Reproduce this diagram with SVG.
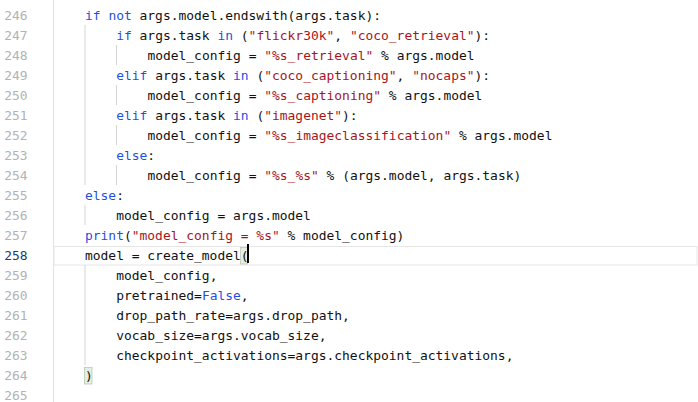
<svg xmlns="http://www.w3.org/2000/svg" width="698" height="402" viewBox="0 0 698 402">
<style>
text{font-family:"DejaVu Sans Mono","Liberation Mono",monospace;font-size:12.95px;fill:#111;white-space:pre}
.ln{fill:#b3b3b3;text-anchor:end}
.cur{fill:#1d3a78}
.k{fill:#1f4fe0}
.s{fill:#a8141c}
.guide{stroke:#d4d4d4;stroke-width:1}
.br{fill:#e2efe2;stroke:#b9c9b9;stroke-width:0.8}
</style>
<rect width="698" height="402" fill="#ffffff"/>
<g id="gutter">
<line x1="53.5" y1="0" x2="53.5" y2="402" stroke="#e2e2e2" stroke-width="1"/>
</g>
<g id="current-line">
<rect x="54" y="246.5" width="643" height="18.5" fill="#ffffff" stroke="#e6e6e6" stroke-width="1"/>
<rect class="br" x="240.5" y="247.5" width="7" height="16.5"/>
<rect x="247" y="244" width="2" height="19" fill="#000"/>
<rect class="br" x="84.5" y="367.5" width="7.5" height="16.5"/>
</g>
<g id="guides">
<line class="guide" x1="85" y1="25" x2="85" y2="185"/>
<line class="guide" x1="85" y1="205" x2="85" y2="225"/>
<line class="guide" x1="85" y1="265" x2="85" y2="365"/>
<line class="guide" x1="116.5" y1="45" x2="116.5" y2="65"/>
<line class="guide" x1="116.5" y1="85" x2="116.5" y2="105"/>
<line class="guide" x1="116.5" y1="125" x2="116.5" y2="145"/>
<line class="guide" x1="116.5" y1="165" x2="116.5" y2="185"/>
</g>
<g id="line-numbers">
<text class="ln" x="27.5" y="20">246</text>
<text class="ln" x="27.5" y="40">247</text>
<text class="ln" x="27.5" y="60">248</text>
<text class="ln" x="27.5" y="80">249</text>
<text class="ln" x="27.5" y="100">250</text>
<text class="ln" x="27.5" y="120">251</text>
<text class="ln" x="27.5" y="140">252</text>
<text class="ln" x="27.5" y="160">253</text>
<text class="ln" x="27.5" y="180">254</text>
<text class="ln" x="27.5" y="200">255</text>
<text class="ln" x="27.5" y="220">256</text>
<text class="ln" x="27.5" y="240">257</text>
<text class="ln cur" x="27.5" y="260">258</text>
<text class="ln" x="27.5" y="280">259</text>
<text class="ln" x="27.5" y="300">260</text>
<text class="ln" x="27.5" y="320">261</text>
<text class="ln" x="27.5" y="340">262</text>
<text class="ln" x="27.5" y="360">263</text>
<text class="ln" x="27.5" y="380">264</text>
<text class="ln" x="27.5" y="400">265</text>
</g>
<g id="code">
<text id="l246" x="85" y="20"><tspan class="k">if</tspan> <tspan class="k">not</tspan> args.model.endswith(args.task):</text>
<text id="l247" x="116.2" y="40"><tspan class="k">if</tspan> args.task <tspan class="k">in</tspan> (<tspan class="s">"flickr30k"</tspan>, <tspan class="s">"coco_retrieval"</tspan>):</text>
<text id="l248" x="147.4" y="60">model_config = <tspan class="s">"%s_retrieval"</tspan> % args.model</text>
<text id="l249" x="116.2" y="80"><tspan class="k">elif</tspan> args.task <tspan class="k">in</tspan> (<tspan class="s">"coco_captioning"</tspan>, <tspan class="s">"nocaps"</tspan>):</text>
<text id="l250" x="147.4" y="100">model_config = <tspan class="s">"%s_captioning"</tspan> % args.model</text>
<text id="l251" x="116.2" y="120"><tspan class="k">elif</tspan> args.task <tspan class="k">in</tspan> (<tspan class="s">"imagenet"</tspan>):</text>
<text id="l252" x="147.4" y="140">model_config = <tspan class="s">"%s_imageclassification"</tspan> % args.model</text>
<text id="l253" x="116.2" y="160"><tspan class="k">else</tspan>:</text>
<text id="l254" x="147.4" y="180">model_config = <tspan class="s">"%s_%s"</tspan> % (args.model, args.task)</text>
<text id="l255" x="85" y="200"><tspan class="k">else</tspan>:</text>
<text id="l256" x="116.2" y="220">model_config = args.model</text>
<text id="l257" x="85" y="240"><tspan class="k">print</tspan>(<tspan class="s">"model_config = %s"</tspan> % model_config)</text>
<text id="l258" x="85" y="260">model = create_model(</text>
<text id="l259" x="116.2" y="280">model_config,</text>
<text id="l260" x="116.2" y="300">pretrained=<tspan class="k">False</tspan>,</text>
<text id="l261" x="116.2" y="320">drop_path_rate=args.drop_path,</text>
<text id="l262" x="116.2" y="340">vocab_size=args.vocab_size,</text>
<text id="l263" x="116.2" y="360">checkpoint_activations=args.checkpoint_activations,</text>
<text id="l264" x="85" y="380">)</text>
</g>
</svg>
